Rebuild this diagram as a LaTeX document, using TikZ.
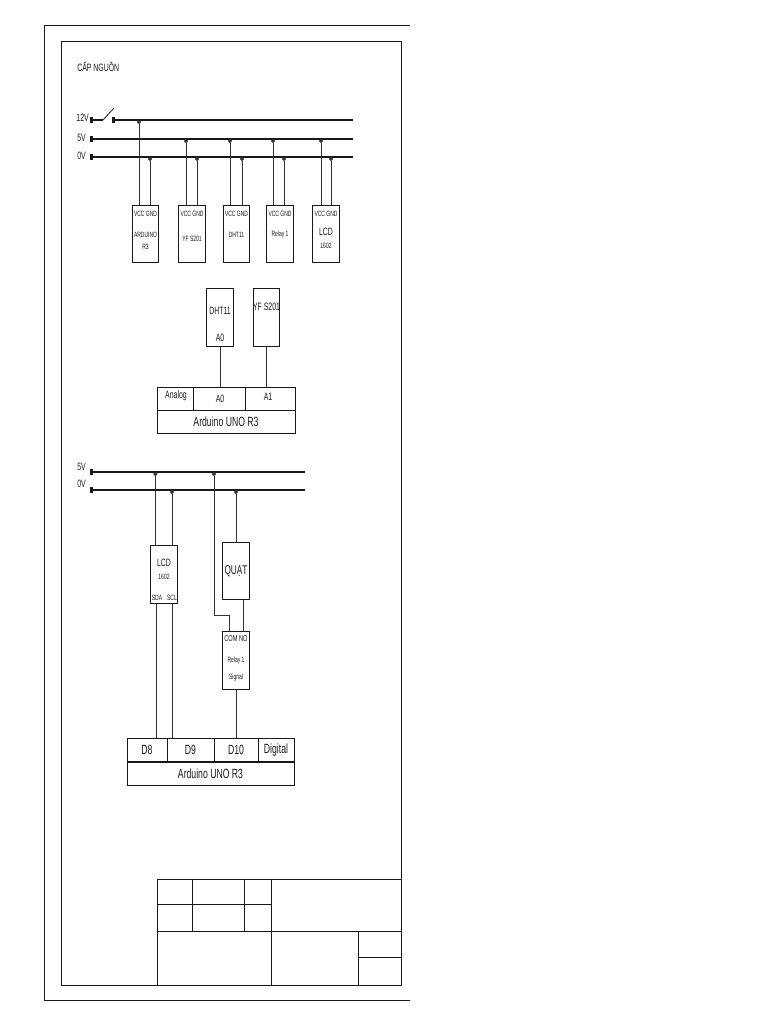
\documentclass[tikz,border=0pt]{standalone}
\usepackage{fontspec}
\setmainfont[FakeStretch=0.65]{Liberation Sans}
\usetikzlibrary{positioning, arrows.meta}

\tikzset{
    sheet/.style={line width=.7pt, black!90},
    rail/.style={line width=1.3pt, black!90, {Rectangle[length=2pt,width=4pt]}-},
    wire/.style={line width=.7pt, black!80},
    tap/.style={wire, {Circle[length=3pt,width=3pt]}-},
    devbox/.style={draw, line width=.7pt, black!90, minimum width=20pt, minimum height=43pt, inner sep=0pt},
    cell/.style={draw, line width=.7pt, black!90, inner sep=0pt, text=black!90, minimum height=17.25pt, font=\fontsize{10}{12}\selectfont},
    txt/.style={inner sep=0pt, text=black!90},
    tiny/.style={txt, font=\fontsize{5.75}{7}\selectfont},
    small/.style={txt, font=\fontsize{8}{10}\selectfont},
    big/.style={txt, font=\fontsize{9.5}{11}\selectfont}
}

\begin{document}
\begin{tikzpicture}[x=.75pt, y=-.75pt]
    \useasboundingbox (0,0) rectangle (768,1024);
    % sheet frame and title block
    \draw[sheet] (410,25) -- (44,25) -- (44,1000) -- (410,1000);
    \draw[sheet] (61,41) rectangle (401,985);
    \draw[sheet] (157,985) -- (157,879) -- (401,879);
    \draw[sheet] (157,904) -- (271,904);
    \draw[sheet] (157,931) -- (401,931);
    \draw[sheet] (192,879) -- (192,931);
    \draw[sheet] (244,879) -- (244,931);
    \draw[sheet] (271,879) -- (271,985);
    \draw[sheet] (358,931) -- (358,985);
    \draw[sheet] (358,957) -- (401,957);

    \node[small, anchor=west] (title) at (77,67) {CẤP NGUỒN};

    % supply rails
    \node[small, anchor=east] (lbA) at (89,118) {12V};
    \node[small, anchor=east] (lbB) at (86,138) {5V};
    \node[small, anchor=east] (lbC) at (86,156) {0V};
    \coordinate (swA) at (90,120);
    \coordinate (swB) at (103,120);
    \coordinate (swC) at (114,108);
    \coordinate (railA) at (112,120);
    \coordinate (railAe) at (353,120);
    \coordinate (railB) at (90,139);
    \coordinate (railBe) at (353,139);
    \coordinate (railC) at (90,157);
    \coordinate (railCe) at (353,157);
    \draw[rail] (swA) -- (swB);
    \draw[wire] (swB) -- (swC);
    \draw[rail] (railA) -- (railAe);
    \draw[rail] (railB) -- (railBe);
    \draw[rail] (railC) -- (railCe);

    \foreach \nm/\cx/\vx/\gx/\vr in {ard/145.5/-6.5/4.5/railA, yfa/192/-6/5/railB, dha/236.5/-6.5/5.5/railB, rla/280/-7/4/railB, lca/326/-5/5/railB}{
        \node[devbox] (\nm) at (\cx,233.7) {};
        \draw[tap] ([xshift=\vx*.75pt]\nm.north |- \vr) -- ([xshift=\vx*.75pt]\nm.north);
        \draw[tap] ([xshift=\gx*.75pt]\nm.north |- railC) -- ([xshift=\gx*.75pt]\nm.north);
        \node[tiny] (\nm-pins) at (\cx,213.5) {VCC GND};
    }
    \node[tiny, align=center] (ard-name) at (145.5,241) {ARDUINO\\[2pt]R3};
    \node[tiny] (yfa-name) at (192,239) {YF S201};
    \node[tiny] (dha-name) at (236.5,235) {DHT11};
    \node[tiny] (rla-name) at (280,235) {Relay 1};
    \node[small] (lca-name) at (326,232) {LCD};
    \node[tiny] (lca-sub) at (326,246) {1602};

    % analog inputs
    \node[devbox] (dhb) at (220,317.5) {};
    \node[devbox] (yfb) at (266.5,317.5) {};
    \node[small] (dhb-name) at (220,311) {DHT11};
    \node[small] (dhb-pin) at (220,338) {A0};
    \node[small] (yfb-name) at (266.5,307) {YF S201};
    \node[cell, minimum width=27pt] (anaA) at (175,398.5) {};
    \node[cell, minimum width=39pt] (anaB) at (219,398.5) {};
    \node[cell, minimum width=37.5pt] (anaC) at (270,398.5) {};
    \node[cell, minimum width=103.5pt] (unoA) at (226,421.5) {Arduino UNO R3};
    \node[small] (anaA-t) at (176,396) {Analog};
    \node[small] (anaB-t) at (220,399) {A0};
    \node[small] (anaC-t) at (268,397) {A1};
    \draw[wire] (dhb.south) -- (dhb.south |- anaB.north);
    \draw[wire] (yfb.south) -- (yfb.south |- anaC.north);

    % digital side
    \node[small, anchor=east] (lbD) at (86,467) {5V};
    \node[small, anchor=east] (lbE) at (86,484) {0V};
    \coordinate (railD) at (90,472);
    \coordinate (railDe) at (305,472);
    \coordinate (railE) at (90,490);
    \coordinate (railEe) at (305,490);
    \draw[rail] (railD) -- (railDe);
    \draw[rail] (railE) -- (railEe);

    \node[devbox] (lcb) at (164,574.5) {};
    \node[small] (lcb-name) at (164,563) {LCD};
    \node[tiny] (lcb-sub) at (164,577) {1602};
    \node[tiny] (lcb-sda) at (157,597.5) {SDA};
    \node[tiny] (lcb-scl) at (172,597.5) {SCL};
    \node[devbox] (fan) at (236,571) {};
    \node[big] (fan-name) at (236,571) {QUẠT};
    \node[devbox] (rlb) at (236,660.5) {};
    \node[tiny, font=\fontsize{6.5}{8}\selectfont] (rlb-pins) at (236,639) {COM NO};
    \node[tiny] (rlb-name) at (236,661) {Relay 1};
    \node[tiny] (rlb-sig) at (236,678) {Signal};

    \node[cell, minimum width=30pt] (digA) at (147,750) {D8};
    \node[cell, minimum width=35.25pt] (digB) at (190.5,750) {D9};
    \node[cell, minimum width=33pt] (digC) at (236,750) {D10};
    \node[cell, minimum width=27pt] (digD) at (276,750) {Digital};
    \node[cell, minimum width=125.25pt] (unoB) at (210.5,773.5) {Arduino UNO R3};

    \draw[tap] ([xshift=-6.5pt]lcb.north |- railD) -- ([xshift=-6.5pt]lcb.north);
    \draw[tap] ([xshift=6pt]lcb.north |- railE) -- ([xshift=6pt]lcb.north);
    \draw[wire] ([xshift=-6pt]lcb.south) -- ([xshift=-6pt]lcb.south |- digA.north);
    \draw[wire] ([xshift=6pt]lcb.south) -- ([xshift=6pt]lcb.south |- digA.north);
    \draw[tap] (fan.north |- railE) -- (fan.north);
    \draw[wire] ([xshift=5.25pt]fan.south) -- ([xshift=5.25pt]fan.south |- rlb.north);
    \coordinate (comA) at (214,615);
    \coordinate (comB) at (229,615);
    \draw[tap] (comA |- railD) -- (comA) -- (comB) -- (comB |- rlb.north);
    \draw[wire] (rlb.south) -- (rlb.south |- digC.north);
\end{tikzpicture}
\end{document}
